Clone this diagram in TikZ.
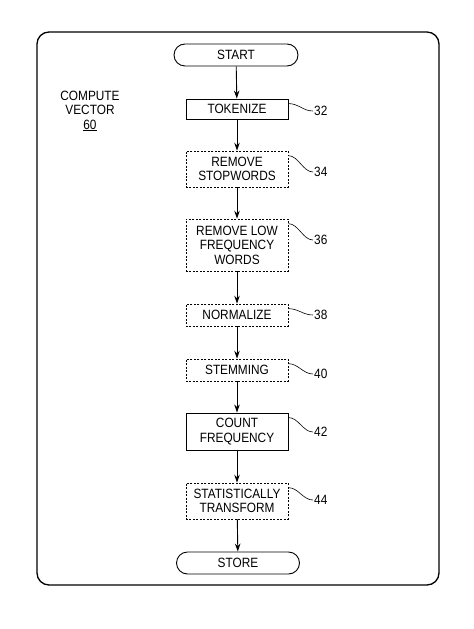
\documentclass[tikz,border=0pt]{standalone}
\usepackage{fontspec}
\setmainfont{Liberation Sans}[FakeStretch=0.88]
\usetikzlibrary{arrows.meta,calc}
\begin{document}
\begin{tikzpicture}[x=1bp,y=-1bp,
  every node/.style={font=\fontsize{13.5}{14.5}\selectfont, align=center, inner sep=0pt},
  stepbox/.style={draw, line width=0.9pt, minimum width=102bp},
  optbox/.style={draw, line width=0.7pt, dash pattern=on 2pt off 1.5pt, minimum width=102bp},
  term/.style={draw, line width=0.9pt, rounded corners=11bp, minimum height=22bp},
  flow/.style={line width=0.9pt, -{Stealth[length=8bp,width=5.5bp]}},
  lead/.style={line width=0.6pt},
  num/.style={anchor=west}]
\useasboundingbox (0,0) rectangle (474,629);
\draw[line width=1.3pt, rounded corners=12bp] (37,32) rectangle (439,585);
\node (cv) at (90,111) {COMPUTE\\VECTOR\\\underline{60}};
\node[term, minimum width=124bp] (start) at (236,55) {START};
\node[stepbox, minimum height=20bp] (tok) at (237,109) {TOKENIZE};
\node[optbox, minimum height=36bp] (stop) at (237,169) {REMOVE\\STOPWORDS};
\node[optbox, minimum height=52bp] (low) at (237,245) {REMOVE LOW\\FREQUENCY\\WORDS};
\node[optbox, minimum height=22bp] (norm) at (237,315) {NORMALIZE};
\node[optbox, minimum height=22bp] (stem) at (237,370) {STEMMING};
\node[stepbox, minimum height=37bp] (count) at (237,431.5) {COUNT\\FREQUENCY};
\node[optbox, minimum height=36bp] (stat) at (237,501) {STATISTICALLY\\TRANSFORM};
\node[term, minimum width=123bp] (store) at (238,563) {STORE};
\draw[flow] (start) -- (tok);
\draw[flow] (tok) -- (stop);
\draw[flow] (stop) -- (low);
\draw[flow] (low) -- (norm);
\draw[flow] (norm) -- (stem);
\draw[flow] (stem) -- (count);
\draw[flow] (count) -- (stat);
\draw[flow] (stat) -- (store);
\node[num] (n32) at (314,111) {32};
\node[num] (n34) at (314,172) {34};
\node[num] (n36) at (314,240) {36};
\node[num] (n38) at (314,315) {38};
\node[num] (n40) at (314,374) {40};
\node[num] (n42) at (314,432) {42};
\node[num] (n44) at (314,500) {44};
\foreach \b/\n in {tok/n32,stop/n34,low/n36,norm/n38,stem/n40,count/n42,stat/n44}{
  \coordinate (s\n) at ($(\b.north east)+(0,5)$);
  \draw[lead] (s\n) .. controls +(10,0) and +(-10,0) .. ($(\n.west)+(-1,0)$);
}
\end{tikzpicture}
\end{document}
